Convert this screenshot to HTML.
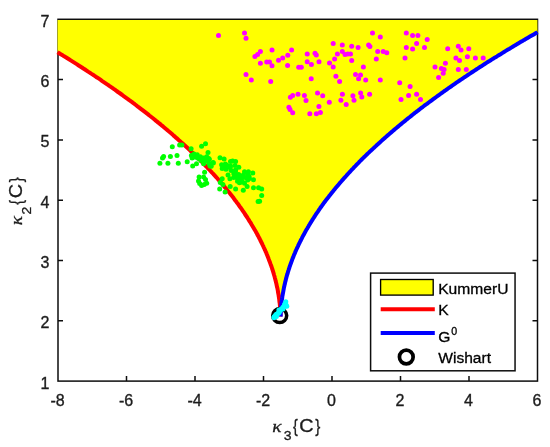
<!DOCTYPE html>
<html><head><meta charset="utf-8"><title>Log-cumulant diagram</title>
<style>html,body{margin:0;padding:0;background:#fff}body{width:550px;height:447px;overflow:hidden}</style></head>
<body>
<svg width="550" height="447" viewBox="0 0 550 447" style="display:block">
<rect width="550" height="447" fill="#fff"/>
<g stroke="#0d0d0d" stroke-width="1.5" fill="none" stroke-linecap="butt">
<rect x="58.0" y="19.3" width="479.5" height="361.8"/>
<path d="M126.5,381.1 v-5 M195.0,381.1 v-5 M263.5,381.1 v-5 M332.0,381.1 v-5 M400.5,381.1 v-5 M469.0,381.1 v-5 M58.0,320.8 h5 M537.5,320.8 h-5 M58.0,260.5 h5 M537.5,260.5 h-5 M58.0,200.2 h5 M537.5,200.2 h-5 M58.0,139.9 h5 M537.5,139.9 h-5 M58.0,79.6 h5 M537.5,79.6 h-5"/>
</g>
<path d="M57.5,19.9 L57.5,52.2 L57.5,52.2 L59.2,53.2 L60.8,54.2 L62.5,55.2 L64.1,56.3 L65.8,57.3 L67.4,58.3 L69.0,59.3 L70.7,60.4 L72.3,61.4 L73.9,62.4 L75.5,63.4 L77.1,64.4 L78.7,65.5 L80.3,66.5 L81.9,67.5 L83.4,68.5 L85.0,69.5 L86.6,70.6 L88.1,71.6 L89.7,72.6 L91.2,73.6 L92.8,74.6 L94.3,75.7 L95.8,76.7 L97.4,77.7 L98.9,78.7 L100.4,79.7 L101.9,80.8 L103.4,81.8 L104.9,82.8 L106.4,83.8 L107.9,84.8 L109.3,85.9 L110.8,86.9 L112.3,87.9 L113.7,88.9 L115.2,89.9 L116.6,91.0 L118.0,92.0 L119.5,93.0 L120.9,94.0 L122.3,95.0 L123.7,96.1 L125.1,97.1 L126.5,98.1 L127.9,99.1 L129.3,100.2 L130.7,101.2 L132.1,102.2 L133.4,103.2 L134.8,104.2 L136.2,105.3 L137.5,106.3 L138.9,107.3 L140.2,108.3 L141.5,109.3 L142.9,110.4 L144.2,111.4 L145.5,112.4 L146.8,113.4 L148.1,114.4 L149.4,115.5 L150.7,116.5 L152.0,117.5 L153.3,118.5 L154.5,119.5 L155.8,120.6 L157.1,121.6 L158.3,122.6 L159.6,123.6 L160.8,124.6 L162.0,125.7 L163.3,126.7 L164.5,127.7 L165.7,128.7 L166.9,129.7 L168.1,130.8 L169.3,131.8 L170.5,132.8 L171.7,133.8 L172.9,134.9 L174.0,135.9 L175.2,136.9 L176.3,137.9 L177.5,138.9 L178.6,140.0 L179.8,141.0 L180.9,142.0 L182.1,143.0 L183.2,144.0 L184.3,145.1 L185.4,146.1 L186.5,147.1 L187.6,148.1 L188.7,149.1 L189.8,150.2 L190.8,151.2 L191.9,152.2 L193.0,153.2 L194.0,154.2 L195.1,155.3 L196.1,156.3 L197.2,157.3 L198.2,158.3 L199.2,159.3 L200.3,160.4 L201.3,161.4 L202.3,162.4 L203.3,163.4 L204.3,164.4 L205.3,165.5 L206.3,166.5 L207.2,167.5 L208.2,168.5 L209.2,169.5 L210.1,170.6 L211.1,171.6 L212.0,172.6 L213.0,173.6 L213.9,174.7 L214.8,175.7 L215.7,176.7 L216.6,177.7 L217.6,178.7 L218.5,179.8 L219.3,180.8 L220.2,181.8 L221.1,182.8 L222.0,183.8 L222.9,184.9 L223.7,185.9 L224.6,186.9 L225.4,187.9 L226.3,188.9 L227.1,190.0 L227.9,191.0 L228.8,192.0 L229.6,193.0 L230.4,194.0 L231.2,195.1 L232.0,196.1 L232.8,197.1 L233.6,198.1 L234.3,199.1 L235.1,200.2 L235.9,201.2 L236.6,202.2 L237.4,203.2 L238.1,204.2 L238.9,205.3 L239.6,206.3 L240.3,207.3 L241.1,208.3 L241.8,209.3 L242.5,210.4 L243.2,211.4 L243.9,212.4 L244.6,213.4 L245.2,214.5 L245.9,215.5 L246.6,216.5 L247.3,217.5 L247.9,218.5 L248.6,219.6 L249.2,220.6 L249.8,221.6 L250.5,222.6 L251.1,223.6 L251.7,224.7 L252.3,225.7 L252.9,226.7 L253.5,227.7 L254.1,228.7 L254.7,229.8 L255.3,230.8 L255.9,231.8 L256.4,232.8 L257.0,233.8 L257.5,234.9 L258.1,235.9 L258.6,236.9 L259.1,237.9 L259.7,238.9 L260.2,240.0 L260.7,241.0 L261.2,242.0 L261.7,243.0 L262.2,244.0 L262.7,245.1 L263.2,246.1 L263.6,247.1 L264.1,248.1 L264.6,249.1 L265.0,250.2 L265.5,251.2 L265.9,252.2 L266.4,253.2 L266.8,254.3 L267.2,255.3 L267.6,256.3 L268.0,257.3 L268.4,258.3 L268.8,259.4 L269.2,260.4 L269.6,261.4 L270.0,262.4 L270.3,263.4 L270.7,264.5 L271.1,265.5 L271.4,266.5 L271.8,267.5 L272.1,268.5 L272.4,269.6 L272.8,270.6 L273.1,271.6 L273.4,272.6 L273.7,273.6 L274.0,274.7 L274.3,275.7 L274.6,276.7 L274.8,277.7 L275.1,278.7 L275.4,279.8 L275.6,280.8 L275.9,281.8 L276.1,282.8 L276.4,283.8 L276.6,284.9 L276.8,285.9 L277.0,286.9 L277.3,287.9 L277.5,288.9 L277.7,290.0 L277.9,291.0 L278.0,292.0 L278.2,293.0 L278.4,294.1 L278.6,295.1 L278.7,296.1 L278.9,297.1 L279.0,298.1 L279.2,299.2 L279.3,300.2 L279.4,301.2 L279.5,302.2 L279.7,303.2 L279.8,304.3 L279.9,305.3 L280.0,306.3 L280.0,307.3 L280.1,308.3 L280.2,309.4 L280.3,310.4 L280.3,311.4 L280.4,312.4 L280.4,313.4 L280.5,314.5 L280.5,315.5 L280.5,316.5 L280.6,316.5 L280.7,315.4 L280.7,314.3 L280.7,313.2 L280.8,312.1 L280.9,311.0 L280.9,309.9 L281.0,308.8 L281.1,307.7 L281.2,306.6 L281.3,305.5 L281.4,304.4 L281.5,303.3 L281.6,302.2 L281.7,301.1 L281.9,300.0 L282.0,298.9 L282.2,297.8 L282.3,296.7 L282.5,295.6 L282.7,294.5 L282.9,293.5 L283.1,292.4 L283.3,291.3 L283.5,290.2 L283.7,289.1 L283.9,288.0 L284.1,286.9 L284.4,285.8 L284.6,284.7 L284.9,283.6 L285.1,282.5 L285.4,281.4 L285.7,280.3 L285.9,279.2 L286.2,278.1 L286.5,277.0 L286.8,275.9 L287.1,274.8 L287.5,273.7 L287.8,272.6 L288.1,271.5 L288.5,270.4 L288.8,269.3 L289.2,268.2 L289.5,267.1 L289.9,266.0 L290.3,264.9 L290.7,263.8 L291.1,262.7 L291.5,261.6 L291.9,260.5 L292.3,259.4 L292.7,258.3 L293.2,257.2 L293.6,256.1 L294.0,255.0 L294.5,253.9 L295.0,252.8 L295.4,251.7 L295.9,250.6 L296.4,249.5 L296.9,248.4 L297.4,247.3 L297.9,246.3 L298.4,245.2 L298.9,244.1 L299.5,243.0 L300.0,241.9 L300.6,240.8 L301.1,239.7 L301.7,238.6 L302.2,237.5 L302.8,236.4 L303.4,235.3 L304.0,234.2 L304.6,233.1 L305.2,232.0 L305.8,230.9 L306.4,229.8 L307.1,228.7 L307.7,227.6 L308.4,226.5 L309.0,225.4 L309.7,224.3 L310.3,223.2 L311.0,222.1 L311.7,221.0 L312.4,219.9 L313.1,218.8 L313.8,217.7 L314.5,216.6 L315.2,215.5 L315.9,214.4 L316.7,213.3 L317.4,212.2 L318.2,211.1 L318.9,210.0 L319.7,208.9 L320.4,207.8 L321.2,206.7 L322.0,205.6 L322.8,204.5 L323.6,203.4 L324.4,202.3 L325.2,201.2 L326.1,200.1 L326.9,199.1 L327.7,198.0 L328.6,196.9 L329.4,195.8 L330.3,194.7 L331.2,193.6 L332.0,192.5 L332.9,191.4 L333.8,190.3 L334.7,189.2 L335.6,188.1 L336.5,187.0 L337.4,185.9 L338.4,184.8 L339.3,183.7 L340.2,182.6 L341.2,181.5 L342.1,180.4 L343.1,179.3 L344.1,178.2 L345.1,177.1 L346.1,176.0 L347.0,174.9 L348.0,173.8 L349.1,172.7 L350.1,171.6 L351.1,170.5 L352.1,169.4 L353.2,168.3 L354.2,167.2 L355.3,166.1 L356.3,165.0 L357.4,163.9 L358.5,162.8 L359.5,161.7 L360.6,160.6 L361.7,159.5 L362.8,158.4 L363.9,157.3 L365.1,156.2 L366.2,155.1 L367.3,154.0 L368.5,152.9 L369.6,151.8 L370.8,150.8 L371.9,149.7 L373.1,148.6 L374.3,147.5 L375.5,146.4 L376.6,145.3 L377.8,144.2 L379.1,143.1 L380.3,142.0 L381.5,140.9 L382.7,139.8 L383.9,138.7 L385.2,137.6 L386.4,136.5 L387.7,135.4 L389.0,134.3 L390.2,133.2 L391.5,132.1 L392.8,131.0 L394.1,129.9 L395.4,128.8 L396.7,127.7 L398.0,126.6 L399.3,125.5 L400.7,124.4 L402.0,123.3 L403.3,122.2 L404.7,121.1 L406.0,120.0 L407.4,118.9 L408.8,117.8 L410.2,116.7 L411.5,115.6 L412.9,114.5 L414.3,113.4 L415.7,112.3 L417.2,111.2 L418.6,110.1 L420.0,109.0 L421.4,107.9 L422.9,106.8 L424.3,105.7 L425.8,104.6 L427.3,103.6 L428.7,102.5 L430.2,101.4 L431.7,100.3 L433.2,99.2 L434.7,98.1 L436.2,97.0 L437.7,95.9 L439.2,94.8 L440.8,93.7 L442.3,92.6 L443.8,91.5 L445.4,90.4 L446.9,89.3 L448.5,88.2 L450.1,87.1 L451.7,86.0 L453.2,84.9 L454.8,83.8 L456.4,82.7 L458.0,81.6 L459.6,80.5 L461.3,79.4 L462.9,78.3 L464.5,77.2 L466.2,76.1 L467.8,75.0 L469.5,73.9 L471.1,72.8 L472.8,71.7 L474.5,70.6 L476.2,69.5 L477.9,68.4 L479.5,67.3 L481.3,66.2 L483.0,65.1 L484.7,64.0 L486.4,62.9 L488.1,61.8 L489.9,60.7 L491.6,59.6 L493.4,58.5 L495.1,57.4 L496.9,56.4 L498.7,55.3 L500.5,54.2 L502.2,53.1 L504.0,52.0 L505.8,50.9 L507.6,49.8 L509.5,48.7 L511.3,47.6 L513.1,46.5 L514.9,45.4 L516.8,44.3 L518.6,43.2 L520.5,42.1 L522.4,41.0 L524.2,39.9 L526.1,38.8 L528.0,37.7 L529.9,36.6 L531.8,35.5 L533.7,34.4 L535.6,33.3 L537.5,32.2 L537.4,19.9 Z" fill="#ffff00"/>
<path d="M57.5,52.2 L59.2,53.2 L60.8,54.2 L62.5,55.2 L64.1,56.3 L65.8,57.3 L67.4,58.3 L69.0,59.3 L70.7,60.4 L72.3,61.4 L73.9,62.4 L75.5,63.4 L77.1,64.4 L78.7,65.5 L80.3,66.5 L81.9,67.5 L83.4,68.5 L85.0,69.5 L86.6,70.6 L88.1,71.6 L89.7,72.6 L91.2,73.6 L92.8,74.6 L94.3,75.7 L95.8,76.7 L97.4,77.7 L98.9,78.7 L100.4,79.7 L101.9,80.8 L103.4,81.8 L104.9,82.8 L106.4,83.8 L107.9,84.8 L109.3,85.9 L110.8,86.9 L112.3,87.9 L113.7,88.9 L115.2,89.9 L116.6,91.0 L118.0,92.0 L119.5,93.0 L120.9,94.0 L122.3,95.0 L123.7,96.1 L125.1,97.1 L126.5,98.1 L127.9,99.1 L129.3,100.2 L130.7,101.2 L132.1,102.2 L133.4,103.2 L134.8,104.2 L136.2,105.3 L137.5,106.3 L138.9,107.3 L140.2,108.3 L141.5,109.3 L142.9,110.4 L144.2,111.4 L145.5,112.4 L146.8,113.4 L148.1,114.4 L149.4,115.5 L150.7,116.5 L152.0,117.5 L153.3,118.5 L154.5,119.5 L155.8,120.6 L157.1,121.6 L158.3,122.6 L159.6,123.6 L160.8,124.6 L162.0,125.7 L163.3,126.7 L164.5,127.7 L165.7,128.7 L166.9,129.7 L168.1,130.8 L169.3,131.8 L170.5,132.8 L171.7,133.8 L172.9,134.9 L174.0,135.9 L175.2,136.9 L176.3,137.9 L177.5,138.9 L178.6,140.0 L179.8,141.0 L180.9,142.0 L182.1,143.0 L183.2,144.0 L184.3,145.1 L185.4,146.1 L186.5,147.1 L187.6,148.1 L188.7,149.1 L189.8,150.2 L190.8,151.2 L191.9,152.2 L193.0,153.2 L194.0,154.2 L195.1,155.3 L196.1,156.3 L197.2,157.3 L198.2,158.3 L199.2,159.3 L200.3,160.4 L201.3,161.4 L202.3,162.4 L203.3,163.4 L204.3,164.4 L205.3,165.5 L206.3,166.5 L207.2,167.5 L208.2,168.5 L209.2,169.5 L210.1,170.6 L211.1,171.6 L212.0,172.6 L213.0,173.6 L213.9,174.7 L214.8,175.7 L215.7,176.7 L216.6,177.7 L217.6,178.7 L218.5,179.8 L219.3,180.8 L220.2,181.8 L221.1,182.8 L222.0,183.8 L222.9,184.9 L223.7,185.9 L224.6,186.9 L225.4,187.9 L226.3,188.9 L227.1,190.0 L227.9,191.0 L228.8,192.0 L229.6,193.0 L230.4,194.0 L231.2,195.1 L232.0,196.1 L232.8,197.1 L233.6,198.1 L234.3,199.1 L235.1,200.2 L235.9,201.2 L236.6,202.2 L237.4,203.2 L238.1,204.2 L238.9,205.3 L239.6,206.3 L240.3,207.3 L241.1,208.3 L241.8,209.3 L242.5,210.4 L243.2,211.4 L243.9,212.4 L244.6,213.4 L245.2,214.5 L245.9,215.5 L246.6,216.5 L247.3,217.5 L247.9,218.5 L248.6,219.6 L249.2,220.6 L249.8,221.6 L250.5,222.6 L251.1,223.6 L251.7,224.7 L252.3,225.7 L252.9,226.7 L253.5,227.7 L254.1,228.7 L254.7,229.8 L255.3,230.8 L255.9,231.8 L256.4,232.8 L257.0,233.8 L257.5,234.9 L258.1,235.9 L258.6,236.9 L259.1,237.9 L259.7,238.9 L260.2,240.0 L260.7,241.0 L261.2,242.0 L261.7,243.0 L262.2,244.0 L262.7,245.1 L263.2,246.1 L263.6,247.1 L264.1,248.1 L264.6,249.1 L265.0,250.2 L265.5,251.2 L265.9,252.2 L266.4,253.2 L266.8,254.3 L267.2,255.3 L267.6,256.3 L268.0,257.3 L268.4,258.3 L268.8,259.4 L269.2,260.4 L269.6,261.4 L270.0,262.4 L270.3,263.4 L270.7,264.5 L271.1,265.5 L271.4,266.5 L271.8,267.5 L272.1,268.5 L272.4,269.6 L272.8,270.6 L273.1,271.6 L273.4,272.6 L273.7,273.6 L274.0,274.7 L274.3,275.7 L274.6,276.7 L274.8,277.7 L275.1,278.7 L275.4,279.8 L275.6,280.8 L275.9,281.8 L276.1,282.8 L276.4,283.8 L276.6,284.9 L276.8,285.9 L277.0,286.9 L277.3,287.9 L277.5,288.9 L277.7,290.0 L277.9,291.0 L278.0,292.0 L278.2,293.0 L278.4,294.1 L278.6,295.1 L278.7,296.1 L278.9,297.1 L279.0,298.1 L279.2,299.2 L279.3,300.2 L279.4,301.2 L279.5,302.2 L279.7,303.2 L279.8,304.3 L279.9,305.3 L280.0,306.3 L280.0,307.3 L280.1,308.3 L280.2,309.4 L280.3,310.4 L280.3,311.4 L280.4,312.4 L280.4,313.4 L280.5,314.5 L280.5,315.5 L280.5,316.5" fill="none" stroke="#ff0000" stroke-width="4" stroke-linejoin="round"/>
<path d="M537.5,32.2 L535.6,33.3 L533.7,34.4 L531.8,35.5 L529.9,36.6 L528.0,37.7 L526.1,38.8 L524.2,39.9 L522.4,41.0 L520.5,42.1 L518.6,43.2 L516.8,44.3 L514.9,45.4 L513.1,46.5 L511.3,47.6 L509.5,48.7 L507.6,49.8 L505.8,50.9 L504.0,52.0 L502.2,53.1 L500.5,54.2 L498.7,55.3 L496.9,56.4 L495.1,57.4 L493.4,58.5 L491.6,59.6 L489.9,60.7 L488.1,61.8 L486.4,62.9 L484.7,64.0 L483.0,65.1 L481.3,66.2 L479.5,67.3 L477.9,68.4 L476.2,69.5 L474.5,70.6 L472.8,71.7 L471.1,72.8 L469.5,73.9 L467.8,75.0 L466.2,76.1 L464.5,77.2 L462.9,78.3 L461.3,79.4 L459.6,80.5 L458.0,81.6 L456.4,82.7 L454.8,83.8 L453.2,84.9 L451.7,86.0 L450.1,87.1 L448.5,88.2 L446.9,89.3 L445.4,90.4 L443.8,91.5 L442.3,92.6 L440.8,93.7 L439.2,94.8 L437.7,95.9 L436.2,97.0 L434.7,98.1 L433.2,99.2 L431.7,100.3 L430.2,101.4 L428.7,102.5 L427.3,103.6 L425.8,104.6 L424.3,105.7 L422.9,106.8 L421.4,107.9 L420.0,109.0 L418.6,110.1 L417.2,111.2 L415.7,112.3 L414.3,113.4 L412.9,114.5 L411.5,115.6 L410.2,116.7 L408.8,117.8 L407.4,118.9 L406.0,120.0 L404.7,121.1 L403.3,122.2 L402.0,123.3 L400.7,124.4 L399.3,125.5 L398.0,126.6 L396.7,127.7 L395.4,128.8 L394.1,129.9 L392.8,131.0 L391.5,132.1 L390.2,133.2 L389.0,134.3 L387.7,135.4 L386.4,136.5 L385.2,137.6 L383.9,138.7 L382.7,139.8 L381.5,140.9 L380.3,142.0 L379.1,143.1 L377.8,144.2 L376.6,145.3 L375.5,146.4 L374.3,147.5 L373.1,148.6 L371.9,149.7 L370.8,150.8 L369.6,151.8 L368.5,152.9 L367.3,154.0 L366.2,155.1 L365.1,156.2 L363.9,157.3 L362.8,158.4 L361.7,159.5 L360.6,160.6 L359.5,161.7 L358.5,162.8 L357.4,163.9 L356.3,165.0 L355.3,166.1 L354.2,167.2 L353.2,168.3 L352.1,169.4 L351.1,170.5 L350.1,171.6 L349.1,172.7 L348.0,173.8 L347.0,174.9 L346.1,176.0 L345.1,177.1 L344.1,178.2 L343.1,179.3 L342.1,180.4 L341.2,181.5 L340.2,182.6 L339.3,183.7 L338.4,184.8 L337.4,185.9 L336.5,187.0 L335.6,188.1 L334.7,189.2 L333.8,190.3 L332.9,191.4 L332.0,192.5 L331.2,193.6 L330.3,194.7 L329.4,195.8 L328.6,196.9 L327.7,198.0 L326.9,199.1 L326.1,200.1 L325.2,201.2 L324.4,202.3 L323.6,203.4 L322.8,204.5 L322.0,205.6 L321.2,206.7 L320.4,207.8 L319.7,208.9 L318.9,210.0 L318.2,211.1 L317.4,212.2 L316.7,213.3 L315.9,214.4 L315.2,215.5 L314.5,216.6 L313.8,217.7 L313.1,218.8 L312.4,219.9 L311.7,221.0 L311.0,222.1 L310.3,223.2 L309.7,224.3 L309.0,225.4 L308.4,226.5 L307.7,227.6 L307.1,228.7 L306.4,229.8 L305.8,230.9 L305.2,232.0 L304.6,233.1 L304.0,234.2 L303.4,235.3 L302.8,236.4 L302.2,237.5 L301.7,238.6 L301.1,239.7 L300.6,240.8 L300.0,241.9 L299.5,243.0 L298.9,244.1 L298.4,245.2 L297.9,246.3 L297.4,247.3 L296.9,248.4 L296.4,249.5 L295.9,250.6 L295.4,251.7 L295.0,252.8 L294.5,253.9 L294.0,255.0 L293.6,256.1 L293.2,257.2 L292.7,258.3 L292.3,259.4 L291.9,260.5 L291.5,261.6 L291.1,262.7 L290.7,263.8 L290.3,264.9 L289.9,266.0 L289.5,267.1 L289.2,268.2 L288.8,269.3 L288.5,270.4 L288.1,271.5 L287.8,272.6 L287.5,273.7 L287.1,274.8 L286.8,275.9 L286.5,277.0 L286.2,278.1 L285.9,279.2 L285.7,280.3 L285.4,281.4 L285.1,282.5 L284.9,283.6 L284.6,284.7 L284.4,285.8 L284.1,286.9 L283.9,288.0 L283.7,289.1 L283.5,290.2 L283.3,291.3 L283.1,292.4 L282.9,293.5 L282.7,294.5 L282.5,295.6 L282.3,296.7 L282.2,297.8 L282.0,298.9 L281.9,300.0 L281.7,301.1 L281.6,302.2 L281.5,303.3 L281.4,304.4 L281.3,305.5 L281.2,306.6 L281.1,307.7 L281.0,308.8 L280.9,309.9 L280.9,311.0 L280.8,312.1 L280.7,313.2 L280.7,314.3 L280.7,315.4 L280.6,316.5" fill="none" stroke="#0000ff" stroke-width="4" stroke-linejoin="round"/>
<circle cx="279.7" cy="315.6" r="7.0" fill="none" stroke="#000" stroke-width="3.5"/>
<g fill="#ff00ff"><circle cx="218.5" cy="35.5" r="2.50"/><circle cx="244.5" cy="33.0" r="2.50"/><circle cx="246.0" cy="38.3" r="2.50"/><circle cx="260.4" cy="51.4" r="2.50"/><circle cx="257.6" cy="54.5" r="2.50"/><circle cx="254.9" cy="56.5" r="2.50"/><circle cx="272.0" cy="49.9" r="2.50"/><circle cx="291.6" cy="50.1" r="2.50"/><circle cx="287.8" cy="55.2" r="2.50"/><circle cx="282.7" cy="57.9" r="2.50"/><circle cx="278.5" cy="60.3" r="2.50"/><circle cx="260.4" cy="63.2" r="2.50"/><circle cx="266.7" cy="61.9" r="2.50"/><circle cx="269.5" cy="62.1" r="2.50"/><circle cx="272.0" cy="65.7" r="2.50"/><circle cx="287.6" cy="65.5" r="2.50"/><circle cx="307.2" cy="54.0" r="2.50"/><circle cx="307.2" cy="61.8" r="2.50"/><circle cx="298.7" cy="67.2" r="2.50"/><circle cx="301.3" cy="67.2" r="2.50"/><circle cx="246.0" cy="74.6" r="2.50"/><circle cx="251.3" cy="79.9" r="2.50"/><circle cx="270.7" cy="81.4" r="2.50"/><circle cx="311.2" cy="78.7" r="2.50"/><circle cx="290.4" cy="97.3" r="2.50"/><circle cx="292.7" cy="95.6" r="2.50"/><circle cx="298.0" cy="94.2" r="2.50"/><circle cx="304.4" cy="95.6" r="2.50"/><circle cx="306.0" cy="100.5" r="2.50"/><circle cx="288.9" cy="107.3" r="2.50"/><circle cx="290.0" cy="109.6" r="2.50"/><circle cx="292.7" cy="112.7" r="2.50"/><circle cx="317.5" cy="92.9" r="2.50"/><circle cx="322.7" cy="95.8" r="2.50"/><circle cx="329.3" cy="102.2" r="2.50"/><circle cx="318.9" cy="106.4" r="2.50"/><circle cx="320.4" cy="112.4" r="2.50"/><circle cx="316.4" cy="113.8" r="2.50"/><circle cx="309.8" cy="113.8" r="2.50"/><circle cx="342.4" cy="94.3" r="2.50"/><circle cx="340.9" cy="100.3" r="2.50"/><circle cx="346.2" cy="104.4" r="2.50"/><circle cx="352.9" cy="95.7" r="2.50"/><circle cx="354.0" cy="100.3" r="2.50"/><circle cx="360.6" cy="93.1" r="2.50"/><circle cx="361.8" cy="97.0" r="2.50"/><circle cx="369.6" cy="94.2" r="2.50"/><circle cx="339.6" cy="81.5" r="2.50"/><circle cx="358.6" cy="78.7" r="2.50"/><circle cx="365.7" cy="80.0" r="2.50"/><circle cx="315.0" cy="53.3" r="2.50"/><circle cx="316.3" cy="54.9" r="2.50"/><circle cx="311.4" cy="64.4" r="2.50"/><circle cx="319.0" cy="61.8" r="2.50"/><circle cx="333.2" cy="43.5" r="2.50"/><circle cx="342.3" cy="44.9" r="2.50"/><circle cx="351.7" cy="46.2" r="2.50"/><circle cx="358.1" cy="47.5" r="2.50"/><circle cx="368.6" cy="44.9" r="2.50"/><circle cx="369.9" cy="46.4" r="2.50"/><circle cx="372.5" cy="33.1" r="2.50"/><circle cx="380.3" cy="37.1" r="2.50"/><circle cx="337.4" cy="54.0" r="2.50"/><circle cx="342.3" cy="51.5" r="2.50"/><circle cx="345.0" cy="54.5" r="2.50"/><circle cx="347.7" cy="54.0" r="2.50"/><circle cx="350.5" cy="54.0" r="2.50"/><circle cx="334.6" cy="59.1" r="2.50"/><circle cx="329.5" cy="63.1" r="2.50"/><circle cx="333.2" cy="67.1" r="2.50"/><circle cx="351.7" cy="60.4" r="2.50"/><circle cx="377.7" cy="51.5" r="2.50"/><circle cx="383.2" cy="51.5" r="2.50"/><circle cx="386.8" cy="52.7" r="2.50"/><circle cx="376.3" cy="59.1" r="2.50"/><circle cx="363.4" cy="67.1" r="2.50"/><circle cx="335.9" cy="76.2" r="2.50"/><circle cx="355.5" cy="74.5" r="2.50"/><circle cx="360.5" cy="74.9" r="2.50"/><circle cx="380.3" cy="80.0" r="2.50"/><circle cx="406.3" cy="33.1" r="2.50"/><circle cx="412.6" cy="35.6" r="2.50"/><circle cx="417.9" cy="35.6" r="2.50"/><circle cx="427.2" cy="39.6" r="2.50"/><circle cx="416.6" cy="43.5" r="2.50"/><circle cx="406.3" cy="47.5" r="2.50"/><circle cx="412.6" cy="49.1" r="2.50"/><circle cx="424.5" cy="47.5" r="2.50"/><circle cx="405.0" cy="58.0" r="2.50"/><circle cx="447.7" cy="48.7" r="2.50"/><circle cx="458.3" cy="46.2" r="2.50"/><circle cx="461.0" cy="50.0" r="2.50"/><circle cx="468.8" cy="48.7" r="2.50"/><circle cx="455.9" cy="58.0" r="2.50"/><circle cx="459.5" cy="60.4" r="2.50"/><circle cx="467.4" cy="56.7" r="2.50"/><circle cx="475.4" cy="58.0" r="2.50"/><circle cx="483.2" cy="58.0" r="2.50"/><circle cx="445.4" cy="63.3" r="2.50"/><circle cx="435.0" cy="67.1" r="2.50"/><circle cx="441.4" cy="68.4" r="2.50"/><circle cx="444.1" cy="69.6" r="2.50"/><circle cx="443.2" cy="73.3" r="2.50"/><circle cx="438.6" cy="77.5" r="2.50"/><circle cx="458.3" cy="69.5" r="2.50"/><circle cx="466.3" cy="69.5" r="2.50"/><circle cx="399.7" cy="82.7" r="2.50"/><circle cx="410.1" cy="86.5" r="2.50"/><circle cx="416.6" cy="94.2" r="2.50"/><circle cx="408.6" cy="95.6" r="2.50"/><circle cx="401.0" cy="99.4" r="2.50"/><circle cx="420.5" cy="99.4" r="2.50"/></g>
<g fill="#00ff00"><circle cx="232.6" cy="161.0" r="2.50"/><circle cx="227.3" cy="165.5" r="2.50"/><circle cx="230.1" cy="167.6" r="2.50"/><circle cx="223.6" cy="166.8" r="2.50"/><circle cx="235.5" cy="170.5" r="2.50"/><circle cx="233.8" cy="173.7" r="2.50"/><circle cx="238.7" cy="174.5" r="2.50"/><circle cx="240.4" cy="177.8" r="2.50"/><circle cx="237.1" cy="177.8" r="2.50"/><circle cx="243.2" cy="177.0" r="2.50"/><circle cx="242.0" cy="181.1" r="2.50"/><circle cx="247.7" cy="174.5" r="2.50"/><circle cx="246.1" cy="177.8" r="2.50"/><circle cx="249.4" cy="178.6" r="2.50"/><circle cx="239.5" cy="182.7" r="2.50"/><circle cx="198.5" cy="158.6" r="2.50"/><circle cx="206.1" cy="159.9" r="2.50"/><circle cx="194.6" cy="156.0" r="2.50"/><circle cx="203.6" cy="163.7" r="2.50"/><circle cx="209.9" cy="165.0" r="2.50"/><circle cx="172.3" cy="146.7" r="2.50"/><circle cx="179.6" cy="144.9" r="2.50"/><circle cx="181.9" cy="144.9" r="2.50"/><circle cx="163.6" cy="156.4" r="2.50"/><circle cx="162.5" cy="158.0" r="2.50"/><circle cx="170.4" cy="156.4" r="2.50"/><circle cx="177.0" cy="155.4" r="2.50"/><circle cx="159.9" cy="163.2" r="2.50"/><circle cx="167.9" cy="163.2" r="2.50"/><circle cx="178.3" cy="163.2" r="2.50"/><circle cx="187.2" cy="161.8" r="2.50"/><circle cx="191.1" cy="148.8" r="2.50"/><circle cx="205.5" cy="143.7" r="2.50"/><circle cx="201.6" cy="146.2" r="2.50"/><circle cx="208.0" cy="152.5" r="2.50"/><circle cx="191.4" cy="155.4" r="2.50"/><circle cx="194.0" cy="154.1" r="2.50"/><circle cx="197.2" cy="154.8" r="2.50"/><circle cx="192.1" cy="158.0" r="2.50"/><circle cx="195.9" cy="157.3" r="2.50"/><circle cx="200.4" cy="156.7" r="2.50"/><circle cx="203.6" cy="158.0" r="2.50"/><circle cx="206.7" cy="156.7" r="2.50"/><circle cx="201.0" cy="160.5" r="2.50"/><circle cx="204.8" cy="161.1" r="2.50"/><circle cx="209.3" cy="159.2" r="2.50"/><circle cx="208.7" cy="163.0" r="2.50"/><circle cx="213.1" cy="162.4" r="2.50"/><circle cx="211.2" cy="166.2" r="2.50"/><circle cx="196.5" cy="163.7" r="2.50"/><circle cx="192.7" cy="166.0" r="2.50"/><circle cx="204.6" cy="172.2" r="2.50"/><circle cx="199.1" cy="177.1" r="2.50"/><circle cx="203.6" cy="177.1" r="2.50"/><circle cx="198.5" cy="180.9" r="2.50"/><circle cx="205.5" cy="179.6" r="2.50"/><circle cx="206.7" cy="183.2" r="2.50"/><circle cx="201.6" cy="185.4" r="2.50"/><circle cx="199.7" cy="183.6" r="2.50"/><circle cx="204.2" cy="184.6" r="2.50"/><circle cx="208.8" cy="158.4" r="2.50"/><circle cx="213.3" cy="162.9" r="2.50"/><circle cx="210.1" cy="166.0" r="2.50"/><circle cx="220.0" cy="157.7" r="2.50"/><circle cx="224.1" cy="159.0" r="2.50"/><circle cx="221.6" cy="164.8" r="2.50"/><circle cx="225.4" cy="164.1" r="2.50"/><circle cx="222.2" cy="168.6" r="2.50"/><circle cx="226.0" cy="169.2" r="2.50"/><circle cx="230.5" cy="161.6" r="2.50"/><circle cx="235.6" cy="161.6" r="2.50"/><circle cx="230.5" cy="166.0" r="2.50"/><circle cx="235.0" cy="165.4" r="2.50"/><circle cx="238.8" cy="167.3" r="2.50"/><circle cx="231.1" cy="170.5" r="2.50"/><circle cx="235.6" cy="169.9" r="2.50"/><circle cx="228.0" cy="175.0" r="2.50"/><circle cx="229.9" cy="178.8" r="2.50"/><circle cx="233.7" cy="177.5" r="2.50"/><circle cx="235.6" cy="173.7" r="2.50"/><circle cx="239.4" cy="176.9" r="2.50"/><circle cx="237.5" cy="181.3" r="2.50"/><circle cx="241.3" cy="182.0" r="2.50"/><circle cx="243.3" cy="175.0" r="2.50"/><circle cx="244.5" cy="171.8" r="2.50"/><circle cx="248.4" cy="171.8" r="2.50"/><circle cx="252.8" cy="173.1" r="2.50"/><circle cx="249.0" cy="176.2" r="2.50"/><circle cx="247.7" cy="180.1" r="2.50"/><circle cx="253.5" cy="179.7" r="2.50"/><circle cx="244.5" cy="183.3" r="2.50"/><circle cx="247.1" cy="186.4" r="2.50"/><circle cx="243.3" cy="190.3" r="2.50"/><circle cx="235.6" cy="189.0" r="2.50"/><circle cx="230.2" cy="186.4" r="2.50"/><circle cx="253.5" cy="187.7" r="2.50"/><circle cx="258.6" cy="187.7" r="2.50"/><circle cx="261.7" cy="189.0" r="2.50"/><circle cx="261.7" cy="195.4" r="2.50"/><circle cx="258.1" cy="201.4" r="2.50"/><circle cx="259.6" cy="201.2" r="2.50"/><circle cx="222.2" cy="178.8" r="2.50"/><circle cx="220.3" cy="182.6" r="2.50"/><circle cx="222.9" cy="184.5" r="2.50"/><circle cx="219.7" cy="189.0" r="2.50"/><circle cx="225.1" cy="191.9" r="2.50"/></g>
<g fill="#00ffff"><circle cx="274.0" cy="317.7" r="2.50"/><circle cx="276.4" cy="316.4" r="2.50"/><circle cx="278.9" cy="309.9" r="2.50"/><circle cx="283.0" cy="309.0" r="2.50"/><circle cx="274.1" cy="316.8" r="2.50"/><circle cx="275.2" cy="316.0" r="2.50"/><circle cx="275.8" cy="314.8" r="2.50"/><circle cx="276.9" cy="314.0" r="2.50"/><circle cx="278.2" cy="313.4" r="2.50"/><circle cx="279.2" cy="312.5" r="2.50"/><circle cx="279.5" cy="310.9" r="2.50"/><circle cx="280.5" cy="310.0" r="2.50"/><circle cx="281.3" cy="308.9" r="2.50"/><circle cx="282.6" cy="308.3" r="2.50"/><circle cx="283.2" cy="307.0" r="2.50"/><circle cx="284.5" cy="306.5" r="2.50"/><circle cx="285.8" cy="301.8" r="2.50"/><circle cx="285.2" cy="303.5" r="2.50"/><circle cx="286.8" cy="306.3" r="2.50"/><circle cx="286.0" cy="304.8" r="2.50"/><circle cx="284.6" cy="304.6" r="2.50"/></g>
<g font-family="'Liberation Sans', Arial, sans-serif" font-size="16" fill="#1c1c1c" stroke="#1c1c1c" stroke-width="0.35">
<text x="57.5" y="406.3" text-anchor="middle">-8</text>
<text x="126.0" y="406.3" text-anchor="middle">-6</text>
<text x="194.5" y="406.3" text-anchor="middle">-4</text>
<text x="263.0" y="406.3" text-anchor="middle">-2</text>
<text x="331.5" y="406.3" text-anchor="middle">0</text>
<text x="400.0" y="406.3" text-anchor="middle">2</text>
<text x="468.5" y="406.3" text-anchor="middle">4</text>
<text x="537.0" y="406.3" text-anchor="middle">6</text>
<text x="49.5" y="388.6" text-anchor="end">1</text>
<text x="49.5" y="328.3" text-anchor="end">2</text>
<text x="49.5" y="268.0" text-anchor="end">3</text>
<text x="49.5" y="207.7" text-anchor="end">4</text>
<text x="49.5" y="147.4" text-anchor="end">5</text>
<text x="49.5" y="87.1" text-anchor="end">6</text>
<text x="49.5" y="26.8" text-anchor="end">7</text>
</g>
<g transform="translate(272.6,431.6)" fill="#1c1c1c" stroke="#1c1c1c" stroke-width="0.3"><text transform="translate(-0.33,0.00) scale(1.140,1)" font-family="'Liberation Serif', 'DejaVu Serif', serif" font-size="17.0" font-style="italic">κ</text><text transform="translate(11.03,8.80) scale(1.170,1)" font-family="'Liberation Sans', Arial, sans-serif" font-size="12.0">3</text><text transform="translate(20.30,0.00) scale(0.800,1)" font-family="'Liberation Sans', Arial, sans-serif" font-size="18.1">{</text><text transform="translate(26.76,0.00) scale(1.090,1)" font-family="'Liberation Sans', Arial, sans-serif" font-size="18.2">C</text><text transform="translate(42.70,0.00) scale(0.840,1)" font-family="'Liberation Sans', Arial, sans-serif" font-size="18.1">}</text></g>
<g transform="translate(22.0,225.0) rotate(-90)" fill="#1c1c1c" stroke="#1c1c1c" stroke-width="0.3"><text transform="translate(-0.33,0.00) scale(1.140,1)" font-family="'Liberation Serif', 'DejaVu Serif', serif" font-size="17.0" font-style="italic">κ</text><text transform="translate(10.60,8.80) scale(1.170,1)" font-family="'Liberation Sans', Arial, sans-serif" font-size="12.0">2</text><text transform="translate(20.30,0.00) scale(0.800,1)" font-family="'Liberation Sans', Arial, sans-serif" font-size="18.1">{</text><text transform="translate(26.76,0.00) scale(1.090,1)" font-family="'Liberation Sans', Arial, sans-serif" font-size="18.2">C</text><text transform="translate(42.70,0.00) scale(0.840,1)" font-family="'Liberation Sans', Arial, sans-serif" font-size="18.1">}</text></g>
<rect x="370.6" y="273.1" width="144.45" height="97.7" fill="#fff" stroke="#0d0d0d" stroke-width="1.5"/>
<rect x="380.6" y="279.5" width="52.6" height="15.6" fill="#ffff00" stroke="#000" stroke-width="1.35"/>
<path d="M380.7,309.2 H434.8" stroke="#ff0000" stroke-width="4"/>
<path d="M380.7,332.9 H434.8" stroke="#0000ff" stroke-width="4"/>
<circle cx="406.3" cy="357.0" r="6.85" fill="none" stroke="#000" stroke-width="3.7"/>
<g font-family="'Liberation Sans', Arial, sans-serif" font-size="15.4" fill="#000" stroke="#000" stroke-width="0.3">
<text transform="translate(438.2,293.7) scale(1.013,1)">KummerU</text>
<text transform="translate(438.2,314.6) scale(1.013,1)">K</text>
<text transform="translate(438.2,342.0) scale(1.013,1)">G<tspan font-size="10.5" dy="-7" dx="0.9">0</tspan></text>
<text transform="translate(438.2,362.6) scale(1.013,1)">Wishart</text>
</g>
</svg>
</body></html>
